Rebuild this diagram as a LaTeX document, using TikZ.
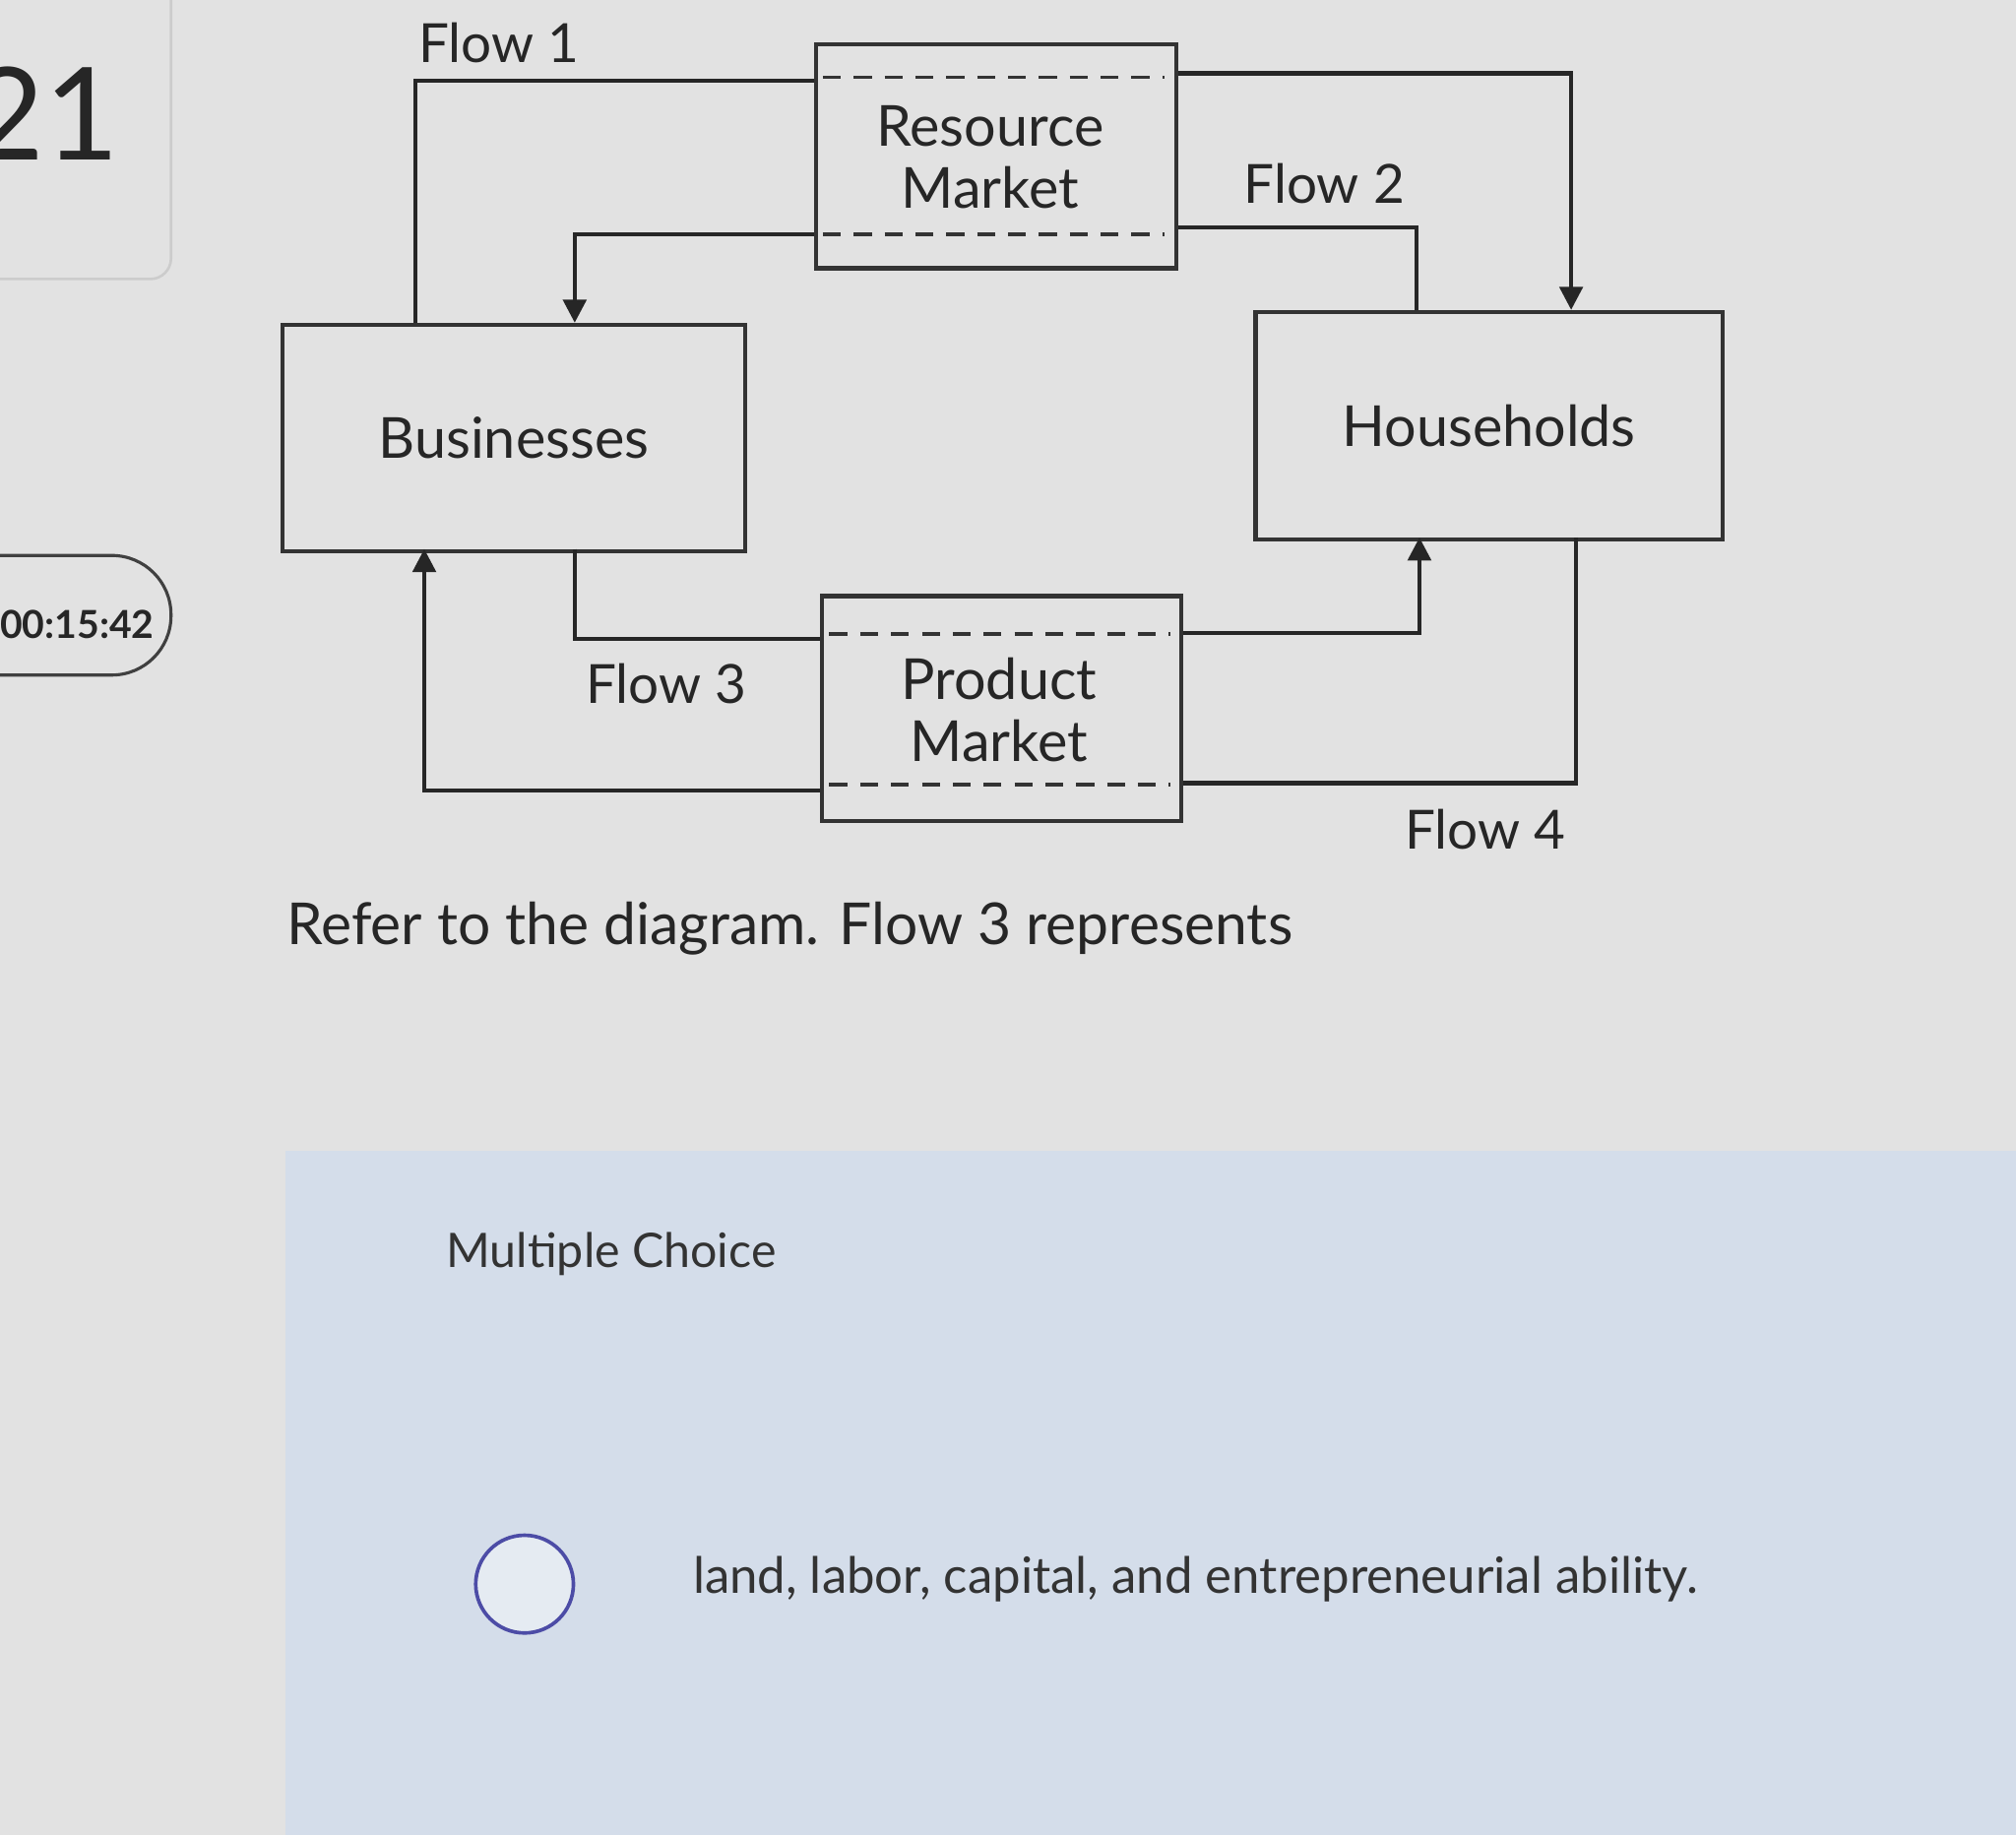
\documentclass[tikz,border=0pt]{standalone}
\usepackage{fontspec}
\setmainfont{Lato}
\usetikzlibrary{arrows.meta}
\definecolor{panel}{RGB}{212,221,234}
\definecolor{bg}{RGB}{226,226,226}
\begin{document}
\begin{tikzpicture}[x=0.5pt,y=-0.5pt,
  box/.style={draw=black!80,line width=1.6pt},
  dashln/.style={draw=black!80,line width=1.4pt,dash pattern=on 7pt off 5pt},
  flow/.style={draw=black!85,line width=1.6pt},
  arr/.style={flow,-{Triangle[length=9pt,width=9pt]}},
  lbl/.style={font=\fontsize{21}{24}\selectfont,text=black!85},
  big/.style={font=\fontsize{22}{26}\selectfont,text=black!85,align=center}]
\fill[bg] (0,0) rectangle (1568,1427);
\useasboundingbox (0,0) rectangle (1568,1427);
% left UI bits
\draw[black!20,line width=1pt,rounded corners=8pt] (-20,-20) -- (133,-20) -- (133,217) -- (-20,217);
\node[font=\fontsize{50}{50}\selectfont,text=black!85] (n21) at (35,88) {21};
\draw[black!75,line width=1.2pt,rounded corners=23pt] (-60,432) rectangle (133,525);
\node[font=\fontsize{15}{18}\selectfont\bfseries,text=black!85] (tm) at (60,486) {00:15:42};
% boxes
\node[box,minimum width=180pt,minimum height=88pt,anchor=north west] (bus) at (218,251) {};
\node[big] at (bus.center) {Businesses};
\node[box,minimum width=181.5pt,minimum height=88.5pt,anchor=north west] (hh) at (975,241) {};
\node[big] at (hh.center) {Households};
\node[box,minimum width=140pt,minimum height=87pt,anchor=north west] (rm) at (633,33) {};
\node[big] at (770,122) {Resource\\[-2pt]Market};
\draw[dashln] (640,60) -- (906,60);
\draw[dashln] (640,182) -- (906,182);
\node[box,minimum width=139.5pt,minimum height=87.5pt,anchor=north west] (pm) at (638,462) {};
\node[big] at (777,552) {Product\\[-2pt]Market};
\draw[dashln] (645,493) -- (910,493);
\draw[dashln] (645,610) -- (910,610);
% flows
\coordinate (b1) at (323,251);
\draw[flow] (b1) -- (323,63) -- (rm.west |- 0,63);
\draw[arr] (rm.east |- 0,57) -- (1222,57) -- (1222,241);
\draw[flow] (1102,241) -- (1102,177) -- (rm.east |- 0,177);
\draw[arr] (rm.west |- 0,182) -- (447,182) -- (447,251);
\draw[flow] (447,427) -- (447,497) -- (pm.west |- 0,497);
\draw[arr] (pm.east |- 0,492) -- (1104,492) -- (1104,418);
\draw[flow] (1226,418) -- (1226,609) -- (pm.east |- 0,609);
\draw[arr] (pm.west |- 0,615) -- (330,615) -- (330,427);
\node[lbl] (f1) at (388,33) {Flow 1};
\node[lbl] (f2) at (1030,143) {Flow 2};
\node[lbl] (f3) at (518,532) {Flow 3};
\node[lbl] (f4) at (1155,645) {Flow 4};
\node[font=\fontsize{22.5}{26}\selectfont,text=black!85,anchor=west] (q) at (216,722) {Refer to the diagram. Flow 3 represents};
% answer panel
\fill[panel] (222,895) rectangle (1568,1427);
\node[font=\fontsize{18.5}{22}\selectfont,text=black!80,anchor=west] (mc) at (340,975) {Multiple Choice};
\draw[blue!50!black!70,line width=1.4pt,fill=panel!60!white] (408,1232) circle (19pt);
\node[font=\fontsize{19.5}{22}\selectfont,text=black!80,anchor=west] (ans) at (532,1228) {land, labor, capital, and entrepreneurial ability.};
\end{tikzpicture}
\end{document}
